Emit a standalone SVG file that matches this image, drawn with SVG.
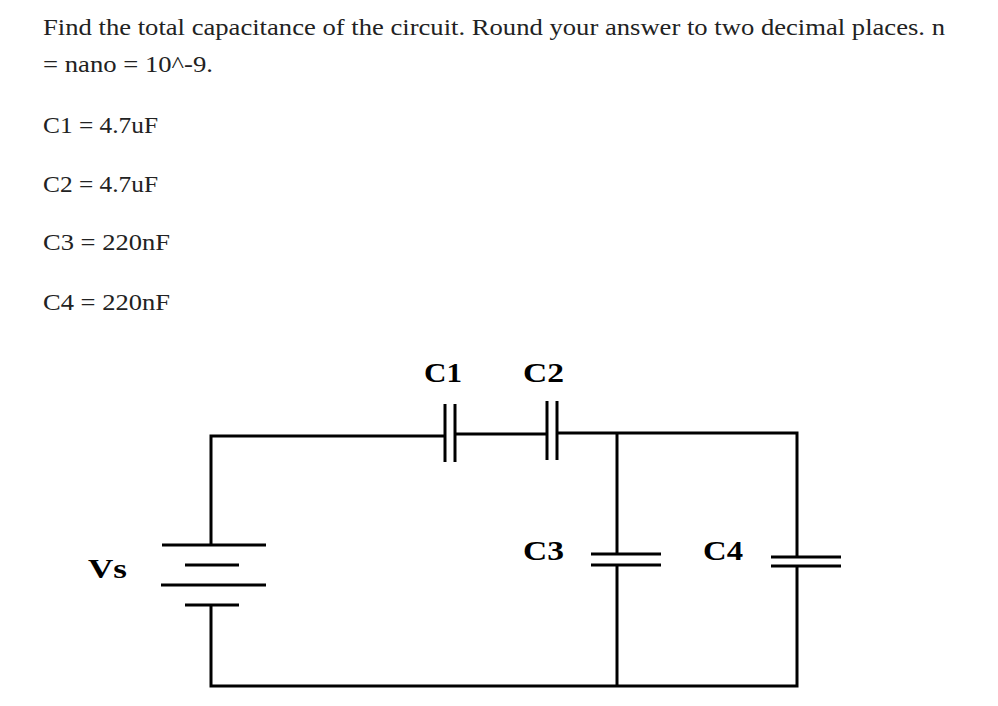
<svg xmlns="http://www.w3.org/2000/svg" width="998" height="706" viewBox="0 0 998 706">
<style>
.t{font-family:"Liberation Serif",serif;font-size:23px;fill:#222}
.l{font-family:"Liberation Serif",serif;font-size:28px;font-weight:bold;fill:#000}
.w{stroke:#000;stroke-width:3;fill:none}
</style>
<rect width="998" height="706" fill="#fff"/>
<g id="question">
<text class="t" x="43" y="35" textLength="902" lengthAdjust="spacingAndGlyphs">Find the total capacitance of the circuit. Round your answer to two decimal places. n</text>
<text class="t" x="43" y="72" textLength="170" lengthAdjust="spacingAndGlyphs">= nano = 10^-9.</text>
<text class="t" x="43" y="133" textLength="115" lengthAdjust="spacingAndGlyphs">C1 = 4.7uF</text>
<text class="t" x="43" y="192" textLength="115" lengthAdjust="spacingAndGlyphs">C2 = 4.7uF</text>
<text class="t" x="43" y="250" textLength="127" lengthAdjust="spacingAndGlyphs">C3 = 220nF</text>
<text class="t" x="43" y="310" textLength="127" lengthAdjust="spacingAndGlyphs">C4 = 220nF</text>
</g>
<g id="connectors">
<polyline class="w" points="445,436 211,436 211,545"/>
<line class="w" x1="455" y1="434" x2="547" y2="434"/>
<polyline class="w" points="557,433 797,433 797,557"/>
<polyline class="w" points="211,605 211,686 797,686 797,566"/>
<line class="w" x1="617" y1="433" x2="617" y2="554"/>
<line class="w" x1="617" y1="565" x2="617" y2="686"/>
</g>
<g id="C1"><line class="w" x1="445" y1="404" x2="445" y2="462"/><line class="w" x1="455" y1="404" x2="455" y2="462"/><text class="l" x="424" y="382" textLength="38" lengthAdjust="spacingAndGlyphs">C1</text></g>
<g id="C2"><line class="w" x1="547" y1="401" x2="547" y2="460"/><line class="w" x1="557" y1="401" x2="557" y2="460"/><text class="l" x="523" y="382" textLength="41" lengthAdjust="spacingAndGlyphs">C2</text></g>
<g id="C3"><line class="w" x1="591" y1="554" x2="661" y2="554"/><line class="w" x1="591" y1="565" x2="661" y2="565"/><text class="l" x="523" y="560" textLength="41" lengthAdjust="spacingAndGlyphs">C3</text></g>
<g id="C4"><line class="w" x1="771" y1="557" x2="841" y2="557"/><line class="w" x1="771" y1="566" x2="841" y2="566"/><text class="l" x="703" y="560" textLength="40" lengthAdjust="spacingAndGlyphs">C4</text></g>
<g id="Vs"><line class="w" x1="162" y1="545" x2="266" y2="545"/><line class="w" x1="185" y1="565" x2="239" y2="565"/><line class="w" x1="161" y1="585" x2="266" y2="585"/><line class="w" x1="185" y1="605" x2="239" y2="605"/><text class="l" x="88" y="578" textLength="39" lengthAdjust="spacingAndGlyphs">Vs</text></g>
</svg>
